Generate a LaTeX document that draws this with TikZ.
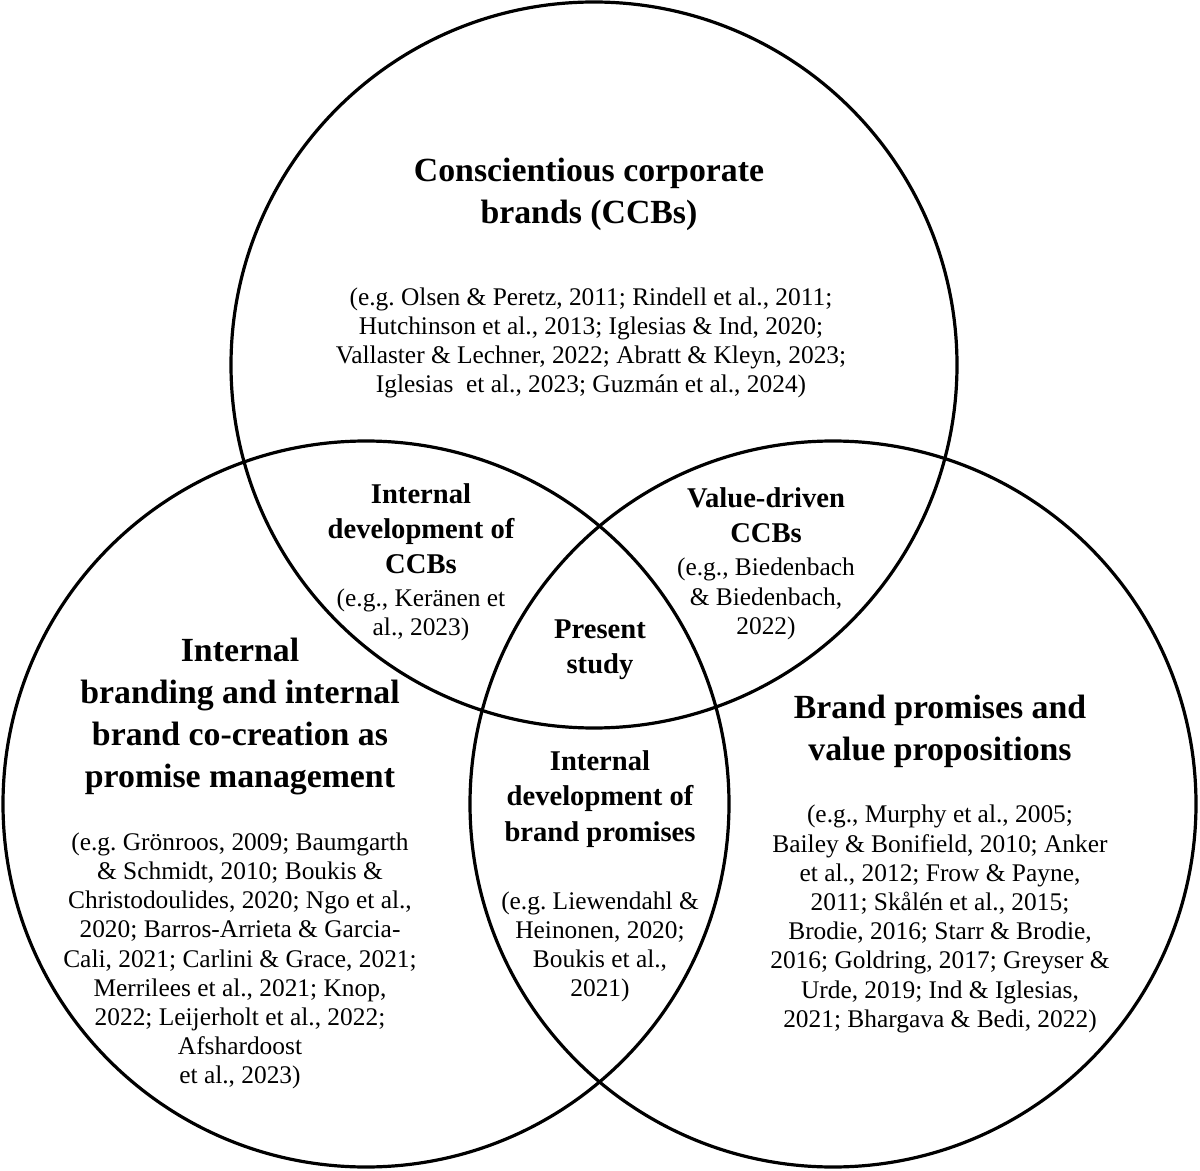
\documentclass[tikz,border=0pt]{standalone}
\usepackage{fontspec}
\setmainfont{Liberation Serif}
\frenchspacing
\begin{document}
\begin{tikzpicture}[x=0.5pt,y=-0.5pt]
\tikzset{
  ring/.style={draw=black, line width=1.6pt},
  txt/.style={align=center, inner sep=0pt, text=black},
  cite/.style={txt, font=\fontsize{12.7}{14.6}\selectfont},
  bighead/.style={txt, font=\fontsize{16.9}{21}\selectfont\bfseries},
  midhead/.style={txt, font=\fontsize{14.3}{17.6}\selectfont\bfseries}
}
\useasboundingbox (0,0) rectangle (1200,1171);
\fill[white] (0,0) rectangle (1200,1171);
% circles
\coordinate (ctop) at (594,365);
\coordinate (cleft) at (366,804);
\coordinate (cright) at (833,804);
\draw[ring] (ctop) circle (363);
\draw[ring] (cleft) circle (363);
\draw[ring] (cright) circle (363);
% top circle
\node[bighead] (ccbhead) at (589,194) {Conscientious corporate\\brands (CCBs)};
\node[cite] (ccbcite) at (591,343) {(e.g. Olsen \& Peretz, 2011; Rindell et al., 2011;\\Hutchinson et al., 2013; Iglesias \& Ind, 2020;\\Vallaster \& Lechner, 2022; Abratt \& Kleyn, 2023;\\Iglesias\ \ et al., 2023; Guzmán et al., 2024)};
% top-left intersection
\node[midhead] (idchead) at (421,529) {Internal\\development of\\CCBs};
\node[cite] (idccite) at (421,615) {(e.g., Keränen et\\al., 2023)};
% top-right intersection
\node[midhead] (vdhead) at (766,515) {Value-driven\\CCBs};
\node[cite] (vdcite) at (766,599) {(e.g., Biedenbach\\\& Biedenbach,\\2022)};
% centre
\node[midhead] (present) at (600,650) {Present\\study};
% left circle
\node[bighead] (ibhead) at (240,717) {Internal\\branding and internal\\brand co-creation as\\promise management};
\node[cite] (ibcite) at (240,961) {(e.g. Grönroos, 2009; Baumgarth\\\& Schmidt, 2010; Boukis \&\\Christodoulides, 2020; Ngo et al.,\\2020; Barros-Arrieta \& Garcia-\\Cali, 2021; Carlini \& Grace, 2021;\\Merrilees et al., 2021; Knop,\\2022; Leijerholt et al., 2022;\\Afshardoost\\et al., 2023)};
% bottom intersection
\node[midhead] (idbhead) at (600,799) {Internal\\development of\\brand promises};
\node[cite] (idbcite) at (600,947) {(e.g. Liewendahl \&\\Heinonen, 2020;\\Boukis et al.,\\2021)};
% right circle
\node[bighead] (bphead) at (940,731) {Brand promises and\\value propositions};
\node[cite] (bpcite) at (940,919) {(e.g., Murphy et al., 2005;\\Bailey \& Bonifield, 2010; Anker\\et al., 2012; Frow \& Payne,\\2011; Skålén et al., 2015;\\Brodie, 2016; Starr \& Brodie,\\2016; Goldring, 2017; Greyser \&\\Urde, 2019; Ind \& Iglesias,\\2021; Bhargava \& Bedi, 2022)};
\end{tikzpicture}
\end{document}
